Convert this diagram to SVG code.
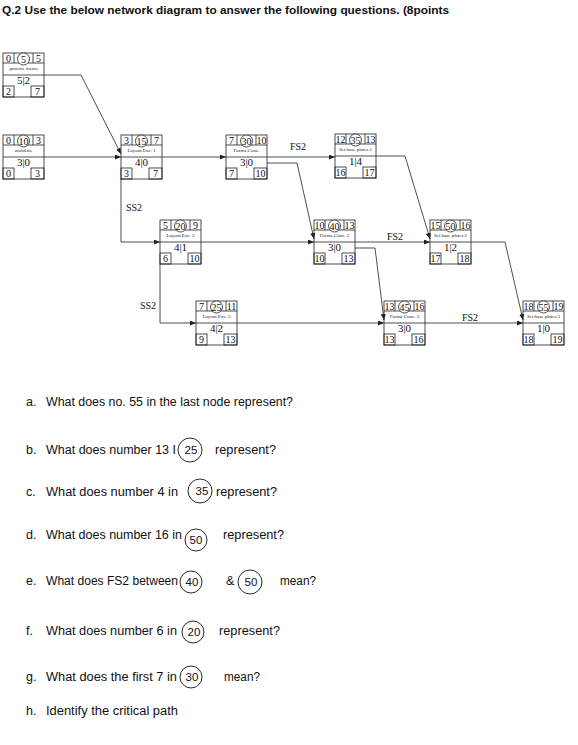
<svg xmlns="http://www.w3.org/2000/svg" width="578" height="745" viewBox="0 0 578 745">
<style>
.bx{fill:none;stroke:#222;stroke-width:0.8}
.ln{fill:none;stroke:#222;stroke-width:0.8}
.cw{fill:#fff;stroke:#222;stroke-width:0.8}
.n{font-family:"Liberation Serif",serif;font-size:10px;fill:#111;text-anchor:middle}
.m{font-family:"Liberation Serif",serif;font-size:11px;fill:#111;text-anchor:middle}
.lb{font-family:"Liberation Serif",serif;font-size:5px;fill:#222;text-anchor:middle}
.fs{font-family:"Liberation Serif",serif;font-size:10px;fill:#111}
.q{font-family:"Liberation Sans",Arial,sans-serif;font-size:12.5px;fill:#111}
.qc{font-family:"Liberation Sans",Arial,sans-serif;font-size:11.5px;fill:#111;text-anchor:middle}
.qo{fill:none;stroke:#111;stroke-width:0.9}
</style>
<defs>
<marker id="ar" markerWidth="6" markerHeight="5" refX="6" refY="2.5" orient="auto" markerUnits="userSpaceOnUse">
<path d="M0,0 L6,2.5 L0,5 z" fill="#222"/>
</marker>
</defs>
<rect width="578" height="745" fill="#fff"/>
<text x="2" y="14" font-family="Liberation Sans,Arial,sans-serif" font-weight="bold" font-size="11.5" fill="#111" textLength="447" lengthAdjust="spacingAndGlyphs">Q.2 Use the below network diagram to answer the following questions. (8points</text>

<g id="connectors">
<polyline class="ln" points="44,75 81,75 121,154" marker-end="url(#ar)"/>
<line class="ln" x1="44" y1="157" x2="121" y2="157" marker-end="url(#ar)"/>
<line class="ln" x1="162" y1="157" x2="226" y2="157" marker-end="url(#ar)"/>
<polyline class="ln" points="121,179 121,242 160,242" marker-end="url(#ar)"/>
<polyline class="ln" points="160,264 160,323 196,323" marker-end="url(#ar)"/>
<line class="ln" x1="267" y1="157" x2="335" y2="157" marker-end="url(#ar)"/>
<polyline class="ln" points="267,163 297,163 314,239" marker-end="url(#ar)"/>
<polyline class="ln" points="376,156 405,156 430,239" marker-end="url(#ar)"/>
<line class="ln" x1="201" y1="242" x2="314" y2="242" marker-end="url(#ar)"/>
<line class="ln" x1="355" y1="242" x2="430" y2="242" marker-end="url(#ar)"/>
<polyline class="ln" points="355,248 375,248 384,320" marker-end="url(#ar)"/>
<polyline class="ln" points="471,242 505,242 523,320" marker-end="url(#ar)"/>
<line class="ln" x1="237" y1="323" x2="384" y2="323" marker-end="url(#ar)"/>
<line class="ln" x1="425" y1="323" x2="523" y2="323" marker-end="url(#ar)"/>
<text class="fs" x="290" y="150">FS2</text>
<text class="fs" x="387" y="240">FS2</text>
<text class="fs" x="462" y="321">FS2</text>
<text class="fs" x="126" y="211">SS2</text>
<text class="fs" x="140" y="309">SS2</text>
</g>

<g id="n1" transform="translate(3,53)">
<rect class="bx" width="41" height="44"/><line class="ln" x1="0" y1="10" x2="41" y2="10"/><line class="ln" x1="11" y1="0" x2="11" y2="10"/><line class="ln" x1="30" y1="0" x2="30" y2="10"/><circle class="cw" cx="20.5" cy="6" r="6"/>
<text class="n" x="5.5" y="8.5">0</text><text class="n" x="20.5" y="9.5">5</text><text class="n" x="35.5" y="8.5">5</text>
<text class="lb" x="20.5" y="17">procure forms</text><line class="ln" x1="0" y1="22" x2="41" y2="22"/>
<text class="m" x="20.5" y="31">5|2</text>
<rect class="bx" x="0" y="33" width="11" height="11"/><rect class="bx" x="28" y="33" width="13" height="11"/>
<text class="n" x="5.5" y="42">2</text><text class="n" x="34.5" y="42">7</text>
</g>

<g id="n2" transform="translate(3,135)">
<rect class="bx" width="41" height="44"/><line class="ln" x1="0" y1="10" x2="41" y2="10"/><line class="ln" x1="11" y1="0" x2="11" y2="10"/><line class="ln" x1="30" y1="0" x2="30" y2="10"/><circle class="cw" cx="20.5" cy="6" r="6"/>
<text class="n" x="5.5" y="8.5">0</text><text class="n" x="20.5" y="9.5">10</text><text class="n" x="35.5" y="8.5">3</text>
<text class="lb" x="20.5" y="17">mobilize</text><line class="ln" x1="0" y1="22" x2="41" y2="22"/>
<text class="m" x="20.5" y="31">3|0</text>
<rect class="bx" x="0" y="33" width="11" height="11"/><rect class="bx" x="28" y="33" width="13" height="11"/>
<text class="n" x="5.5" y="42">0</text><text class="n" x="34.5" y="42">3</text>
</g>

<g id="n3" transform="translate(121,135)">
<rect class="bx" width="41" height="44"/><line class="ln" x1="0" y1="10" x2="41" y2="10"/><line class="ln" x1="11" y1="0" x2="11" y2="10"/><line class="ln" x1="30" y1="0" x2="30" y2="10"/><circle class="cw" cx="20.5" cy="6" r="6"/>
<text class="n" x="5.5" y="8.5">3</text><text class="n" x="20.5" y="9.5">15</text><text class="n" x="35.5" y="8.5">7</text>
<text class="lb" x="20.5" y="17">Layout Exc. 1</text><line class="ln" x1="0" y1="22" x2="41" y2="22"/>
<text class="m" x="20.5" y="31">4|0</text>
<rect class="bx" x="0" y="33" width="11" height="11"/><rect class="bx" x="28" y="33" width="13" height="11"/>
<text class="n" x="5.5" y="42">3</text><text class="n" x="34.5" y="42">7</text>
</g>

<g id="n4" transform="translate(226,135)">
<rect class="bx" width="41" height="44"/><line class="ln" x1="0" y1="10" x2="41" y2="10"/><line class="ln" x1="11" y1="0" x2="11" y2="10"/><line class="ln" x1="30" y1="0" x2="30" y2="10"/><circle class="cw" cx="20.5" cy="6" r="6"/>
<text class="n" x="5.5" y="8.5">7</text><text class="n" x="20.5" y="9.5">30</text><text class="n" x="35.5" y="8.5">10</text>
<text class="lb" x="20.5" y="17">Forms Conc.</text><line class="ln" x1="0" y1="22" x2="41" y2="22"/>
<text class="m" x="20.5" y="31">3|0</text>
<rect class="bx" x="0" y="33" width="11" height="11"/><rect class="bx" x="28" y="33" width="13" height="11"/>
<text class="n" x="5.5" y="42">7</text><text class="n" x="34.5" y="42">10</text>
</g>

<g id="n5" transform="translate(335,134)">
<rect class="bx" width="41" height="44"/><line class="ln" x1="0" y1="10" x2="41" y2="10"/><line class="ln" x1="11" y1="0" x2="11" y2="10"/><line class="ln" x1="30" y1="0" x2="30" y2="10"/><circle class="cw" cx="20.5" cy="6" r="6"/>
<text class="n" x="5.5" y="8.5">12</text><text class="n" x="20.5" y="9.5">35</text><text class="n" x="35.5" y="8.5">13</text>
<text class="lb" x="20.5" y="17">Set base plates 1</text><line class="ln" x1="0" y1="22" x2="41" y2="22"/>
<text class="m" x="20.5" y="31">1|4</text>
<rect class="bx" x="0" y="33" width="11" height="11"/><rect class="bx" x="28" y="33" width="13" height="11"/>
<text class="n" x="5.5" y="42">16</text><text class="n" x="34.5" y="42">17</text>
</g>

<g id="n6" transform="translate(160,220)">
<rect class="bx" width="41" height="44"/><line class="ln" x1="0" y1="10" x2="41" y2="10"/><line class="ln" x1="11" y1="0" x2="11" y2="10"/><line class="ln" x1="30" y1="0" x2="30" y2="10"/><circle class="cw" cx="20.5" cy="6" r="6"/>
<text class="n" x="5.5" y="8.5">5</text><text class="n" x="20.5" y="9.5">20</text><text class="n" x="35.5" y="8.5">9</text>
<text class="lb" x="20.5" y="17">Layout Exc. 2</text><line class="ln" x1="0" y1="22" x2="41" y2="22"/>
<text class="m" x="20.5" y="31">4|1</text>
<rect class="bx" x="0" y="33" width="11" height="11"/><rect class="bx" x="28" y="33" width="13" height="11"/>
<text class="n" x="5.5" y="42">6</text><text class="n" x="34.5" y="42">10</text>
</g>

<g id="n7" transform="translate(314,220)">
<rect class="bx" width="41" height="44"/><line class="ln" x1="0" y1="10" x2="41" y2="10"/><line class="ln" x1="11" y1="0" x2="11" y2="10"/><line class="ln" x1="30" y1="0" x2="30" y2="10"/><circle class="cw" cx="20.5" cy="6" r="6"/>
<text class="n" x="5.5" y="8.5">10</text><text class="n" x="20.5" y="9.5">40</text><text class="n" x="35.5" y="8.5">13</text>
<text class="lb" x="20.5" y="17">Forms Conc. 2</text><line class="ln" x1="0" y1="22" x2="41" y2="22"/>
<text class="m" x="20.5" y="31">3|0</text>
<rect class="bx" x="0" y="33" width="11" height="11"/><rect class="bx" x="28" y="33" width="13" height="11"/>
<text class="n" x="5.5" y="42">10</text><text class="n" x="34.5" y="42">13</text>
</g>

<g id="n8" transform="translate(430,220)">
<rect class="bx" width="41" height="44"/><line class="ln" x1="0" y1="10" x2="41" y2="10"/><line class="ln" x1="11" y1="0" x2="11" y2="10"/><line class="ln" x1="30" y1="0" x2="30" y2="10"/><circle class="cw" cx="20.5" cy="6" r="6"/>
<text class="n" x="5.5" y="8.5">15</text><text class="n" x="20.5" y="9.5">50</text><text class="n" x="35.5" y="8.5">16</text>
<text class="lb" x="20.5" y="17">Set base plates 2</text><line class="ln" x1="0" y1="22" x2="41" y2="22"/>
<text class="m" x="20.5" y="31">1|2</text>
<rect class="bx" x="0" y="33" width="11" height="11"/><rect class="bx" x="28" y="33" width="13" height="11"/>
<text class="n" x="5.5" y="42">17</text><text class="n" x="34.5" y="42">18</text>
</g>

<g id="n9" transform="translate(196,301)">
<rect class="bx" width="41" height="44"/><line class="ln" x1="0" y1="10" x2="41" y2="10"/><line class="ln" x1="11" y1="0" x2="11" y2="10"/><line class="ln" x1="30" y1="0" x2="30" y2="10"/><circle class="cw" cx="20.5" cy="6" r="6"/>
<text class="n" x="5.5" y="8.5">7</text><text class="n" x="20.5" y="9.5">25</text><text class="n" x="35.5" y="8.5">11</text>
<text class="lb" x="20.5" y="17">Layout Exc. 3</text><line class="ln" x1="0" y1="22" x2="41" y2="22"/>
<text class="m" x="20.5" y="31">4|2</text>
<rect class="bx" x="0" y="33" width="11" height="11"/><rect class="bx" x="28" y="33" width="13" height="11"/>
<text class="n" x="5.5" y="42">9</text><text class="n" x="34.5" y="42">13</text>
</g>

<g id="n10" transform="translate(384,301)">
<rect class="bx" width="41" height="44"/><line class="ln" x1="0" y1="10" x2="41" y2="10"/><line class="ln" x1="11" y1="0" x2="11" y2="10"/><line class="ln" x1="30" y1="0" x2="30" y2="10"/><circle class="cw" cx="20.5" cy="6" r="6"/>
<text class="n" x="5.5" y="8.5">13</text><text class="n" x="20.5" y="9.5">45</text><text class="n" x="35.5" y="8.5">16</text>
<text class="lb" x="20.5" y="17">Forms Conc. 3</text><line class="ln" x1="0" y1="22" x2="41" y2="22"/>
<text class="m" x="20.5" y="31">3|0</text>
<rect class="bx" x="0" y="33" width="11" height="11"/><rect class="bx" x="28" y="33" width="13" height="11"/>
<text class="n" x="5.5" y="42">13</text><text class="n" x="34.5" y="42">16</text>
</g>

<g id="n11" transform="translate(523,301)">
<rect class="bx" width="41" height="44"/><line class="ln" x1="0" y1="10" x2="41" y2="10"/><line class="ln" x1="11" y1="0" x2="11" y2="10"/><line class="ln" x1="30" y1="0" x2="30" y2="10"/><circle class="cw" cx="20.5" cy="6" r="6"/>
<text class="n" x="5.5" y="8.5">18</text><text class="n" x="20.5" y="9.5">55</text><text class="n" x="35.5" y="8.5">19</text>
<text class="lb" x="20.5" y="17">Set base plates 3</text><line class="ln" x1="0" y1="22" x2="41" y2="22"/>
<text class="m" x="20.5" y="31">1|0</text>
<rect class="bx" x="0" y="33" width="11" height="11"/><rect class="bx" x="28" y="33" width="13" height="11"/>
<text class="n" x="5.5" y="42">18</text><text class="n" x="34.5" y="42">19</text>
</g>

<g id="questions">
<text class="q" x="26" y="406">a.</text><text class="q" x="46" y="406" textLength="247" lengthAdjust="spacingAndGlyphs">What does no. 55 in the last node represent?</text>
<text class="q" x="26" y="454">b.</text><text class="q" x="46" y="454" textLength="130" lengthAdjust="spacingAndGlyphs">What does number 13 I</text>
<circle class="qo" cx="190" cy="450" r="12"/><text class="qc" x="191" y="454">25</text><text class="q" x="215" y="454" textLength="61" lengthAdjust="spacingAndGlyphs">represent?</text>
<text class="q" x="26" y="496">c.</text><text class="q" x="46" y="496" textLength="132" lengthAdjust="spacingAndGlyphs">What does number 4 in</text>
<circle class="qo" cx="200" cy="491" r="12"/><text class="qc" x="202" y="495">35</text><text class="q" x="216" y="496" textLength="61" lengthAdjust="spacingAndGlyphs">represent?</text>
<text class="q" x="26" y="539">d.</text><text class="q" x="46" y="539" textLength="136" lengthAdjust="spacingAndGlyphs">What does number 16 in</text>
<circle class="qo" cx="196" cy="540" r="11"/><text class="qc" x="196" y="544">50</text><text class="q" x="223" y="539" textLength="61" lengthAdjust="spacingAndGlyphs">represent?</text>
<text class="q" x="26" y="585">e.</text><text class="q" x="46" y="585" textLength="132" lengthAdjust="spacingAndGlyphs">What does FS2 between</text>
<circle class="qo" cx="191" cy="582" r="11"/><text class="qc" x="192" y="586">40</text><text class="q" x="226" y="585">&amp;</text>
<circle class="qo" cx="250" cy="582" r="12"/><text class="qc" x="251" y="586">50</text><text class="q" x="280" y="585" textLength="36" lengthAdjust="spacingAndGlyphs">mean?</text>
<text class="q" x="26" y="635">f.</text><text class="q" x="46" y="635" textLength="131" lengthAdjust="spacingAndGlyphs">What does number 6 in</text>
<circle class="qo" cx="193" cy="632" r="11"/><text class="qc" x="194" y="636">20</text><text class="q" x="219" y="635" textLength="61" lengthAdjust="spacingAndGlyphs">represent?</text>
<text class="q" x="26" y="681">g.</text><text class="q" x="46" y="681" textLength="131" lengthAdjust="spacingAndGlyphs">What does the first 7 in</text>
<circle class="qo" cx="191" cy="677" r="11"/><text class="qc" x="192" y="681">30</text><text class="q" x="224" y="681" textLength="36" lengthAdjust="spacingAndGlyphs">mean?</text>
<text class="q" x="26" y="715">h.</text><text class="q" x="46" y="715" textLength="132" lengthAdjust="spacingAndGlyphs">Identify the critical path</text>
</g>
</svg>
